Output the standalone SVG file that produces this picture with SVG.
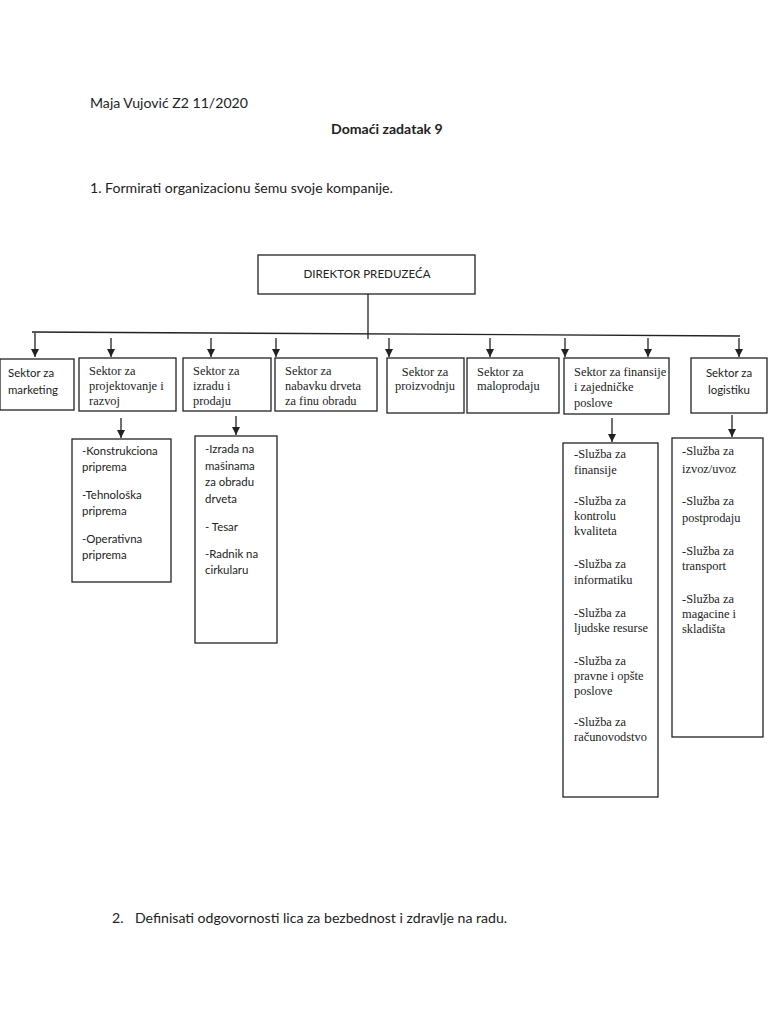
<svg xmlns="http://www.w3.org/2000/svg" width="768" height="1024" viewBox="0 0 768 1024">
<style>
.bx{fill:#fff;stroke:#222;stroke-width:1.3}
.ln{stroke:#222;stroke-width:1.3;fill:none}
.ar{stroke:#222;stroke-width:1.3;fill:none;marker-end:url(#ah)}
.sa{font-family:Lato,"Liberation Sans",sans-serif;font-size:11.4px;fill:#222}
.se{font-family:"Liberation Serif","Times New Roman",serif;font-size:12.4px;fill:#222}
.hd{font-family:Lato,"Liberation Sans",sans-serif;font-size:14.1px;fill:#222}
.dr{font-family:Lato,"Liberation Sans",sans-serif;font-size:11.6px;fill:#222}
</style>
<defs>
<marker id="ah" viewBox="0 0 10 10" refX="10" refY="5" markerWidth="8" markerHeight="8" markerUnits="userSpaceOnUse" orient="auto">
<path d="M0,0 L10,5 L0,10 z" fill="#222"/>
</marker>
</defs>
<rect width="768" height="1024" fill="#fff"/>
<g id="header">
<text class="hd" x="90" y="108">Maja Vujović Z2 11/2020</text>
<text class="hd" x="331" y="134" font-weight="bold">Domaći zadatak 9</text>
<text class="hd" x="90" y="193">1. Formirati organizacionu šemu svoje kompanije.</text>
<text class="hd" x="112" y="923">2.<tspan x="135">Definisati odgovornosti lica za bezbednost i zdravlje na radu.</tspan></text>
</g>
<g id="connectors">
<line class="ln" x1="368" y1="294" x2="368" y2="339"/>
<line class="ln" x1="32" y1="332" x2="740" y2="336"/>
<line class="ar" x1="35" y1="333" x2="35" y2="357"/>
<line class="ar" x1="111" y1="338" x2="111" y2="357"/>
<line class="ar" x1="211" y1="338" x2="211" y2="357"/>
<line class="ar" x1="276" y1="338" x2="276" y2="357"/>
<line class="ar" x1="389" y1="338" x2="389" y2="357"/>
<line class="ar" x1="490" y1="338" x2="490" y2="357"/>
<line class="ar" x1="565" y1="338" x2="565" y2="357"/>
<line class="ar" x1="648" y1="338" x2="648" y2="357"/>
<line class="ar" x1="739" y1="338" x2="739" y2="357"/>
<line class="ar" x1="121" y1="418" x2="121" y2="438"/>
<line class="ar" x1="236" y1="416" x2="236" y2="435"/>
<line class="ar" x1="612" y1="418" x2="612" y2="442"/>
<line class="ar" x1="732" y1="415" x2="732" y2="437"/>
</g>
<g id="director">
<rect class="bx" x="258" y="255" width="217" height="39"/>
<text class="dr" x="367" y="278" text-anchor="middle">DIREKTOR PREDUZEĆA</text>
</g>
<g id="marketing">
<rect class="bx" x="0" y="359" width="74" height="51"/>
<text class="sa" x="8" y="377">Sektor za</text>
<text class="sa" x="8" y="394">marketing</text>
</g>
<g id="projektovanje">
<rect class="bx" x="79" y="358" width="97" height="53"/>
<text class="se" x="89" y="375">Sektor za</text>
<text class="se" x="89" y="390">projektovanje i</text>
<text class="se" x="89" y="405">razvoj</text>
</g>
<g id="izradu">
<rect class="bx" x="183" y="358" width="88" height="53"/>
<text class="se" x="193" y="375">Sektor za</text>
<text class="se" x="193" y="390">izradu i</text>
<text class="se" x="193" y="405">prodaju</text>
</g>
<g id="nabavku">
<rect class="bx" x="275" y="358" width="102" height="53"/>
<text class="se" x="285" y="375">Sektor za</text>
<text class="se" x="285" y="390">nabavku drveta</text>
<text class="se" x="285" y="405">za finu obradu</text>
</g>
<g id="proizvodnju">
<rect class="bx" x="387" y="358" width="77" height="55"/>
<text class="se" x="425" y="376" text-anchor="middle">Sektor za</text>
<text class="se" x="425" y="390" text-anchor="middle">proizvodnju</text>
</g>
<g id="maloprodaju">
<rect class="bx" x="467" y="358" width="92" height="55"/>
<text class="se" x="477" y="376">Sektor za</text>
<text class="se" x="477" y="390">maloprodaju</text>
</g>
<g id="finansije">
<rect class="bx" x="564" y="358" width="105" height="56"/>
<text class="se" x="574" y="376">Sektor za finansije</text>
<text class="se" x="574" y="391">i zajedničke</text>
<text class="se" x="574" y="407">poslove</text>
</g>
<g id="logistiku">
<rect class="bx" x="691" y="358" width="76" height="55"/>
<text class="sa" x="729" y="377" text-anchor="middle">Sektor za</text>
<text class="sa" x="729" y="394" text-anchor="middle">logistiku</text>
</g>
<g id="sub-projektovanje">
<rect class="bx" x="72" y="439" width="99" height="143"/>
<text class="sa" x="82" y="455">-Konstrukciona</text>
<text class="sa" x="82" y="471">priprema</text>
<text class="sa" x="82" y="499">-Tehnološka</text>
<text class="sa" x="82" y="515">priprema</text>
<text class="sa" x="82" y="543">-Operativna</text>
<text class="sa" x="82" y="559">priprema</text>
</g>
<g id="sub-izradu">
<rect class="bx" x="195" y="436" width="82" height="207"/>
<text class="sa" x="205" y="453">-Izrada na</text>
<text class="sa" x="205" y="470">mašinama</text>
<text class="sa" x="205" y="486">za obradu</text>
<text class="sa" x="205" y="503">drveta</text>
<text class="sa" x="205" y="531">- Tesar</text>
<text class="sa" x="205" y="558">-Radnik na</text>
<text class="sa" x="205" y="574">cirkularu</text>
</g>
<g id="sub-finansije">
<rect class="bx" x="563" y="443" width="95" height="354"/>
<text class="se" x="574" y="458">-Služba za</text>
<text class="se" x="574" y="474">finansije</text>
<text class="se" x="574" y="505">-Služba za</text>
<text class="se" x="574" y="520">kontrolu</text>
<text class="se" x="574" y="535">kvaliteta</text>
<text class="se" x="574" y="568">-Služba za</text>
<text class="se" x="574" y="584">informatiku</text>
<text class="se" x="574" y="617">-Služba za</text>
<text class="se" x="574" y="632">ljudske resurse</text>
<text class="se" x="574" y="665">-Služba za</text>
<text class="se" x="574" y="680">pravne i opšte</text>
<text class="se" x="574" y="695">poslove</text>
<text class="se" x="574" y="726">-Služba za</text>
<text class="se" x="574" y="741">računovodstvo</text>
</g>
<g id="sub-logistiku">
<rect class="bx" x="672" y="438" width="91" height="299"/>
<text class="se" x="682" y="455">-Služba za</text>
<text class="se" x="682" y="473">izvoz/uvoz</text>
<text class="se" x="682" y="505">-Služba za</text>
<text class="se" x="682" y="522">postprodaju</text>
<text class="se" x="682" y="555">-Služba za</text>
<text class="se" x="682" y="570">transport</text>
<text class="se" x="682" y="603">-Služba za</text>
<text class="se" x="682" y="618">magacine i</text>
<text class="se" x="682" y="633">skladišta</text>
</g>
</svg>
